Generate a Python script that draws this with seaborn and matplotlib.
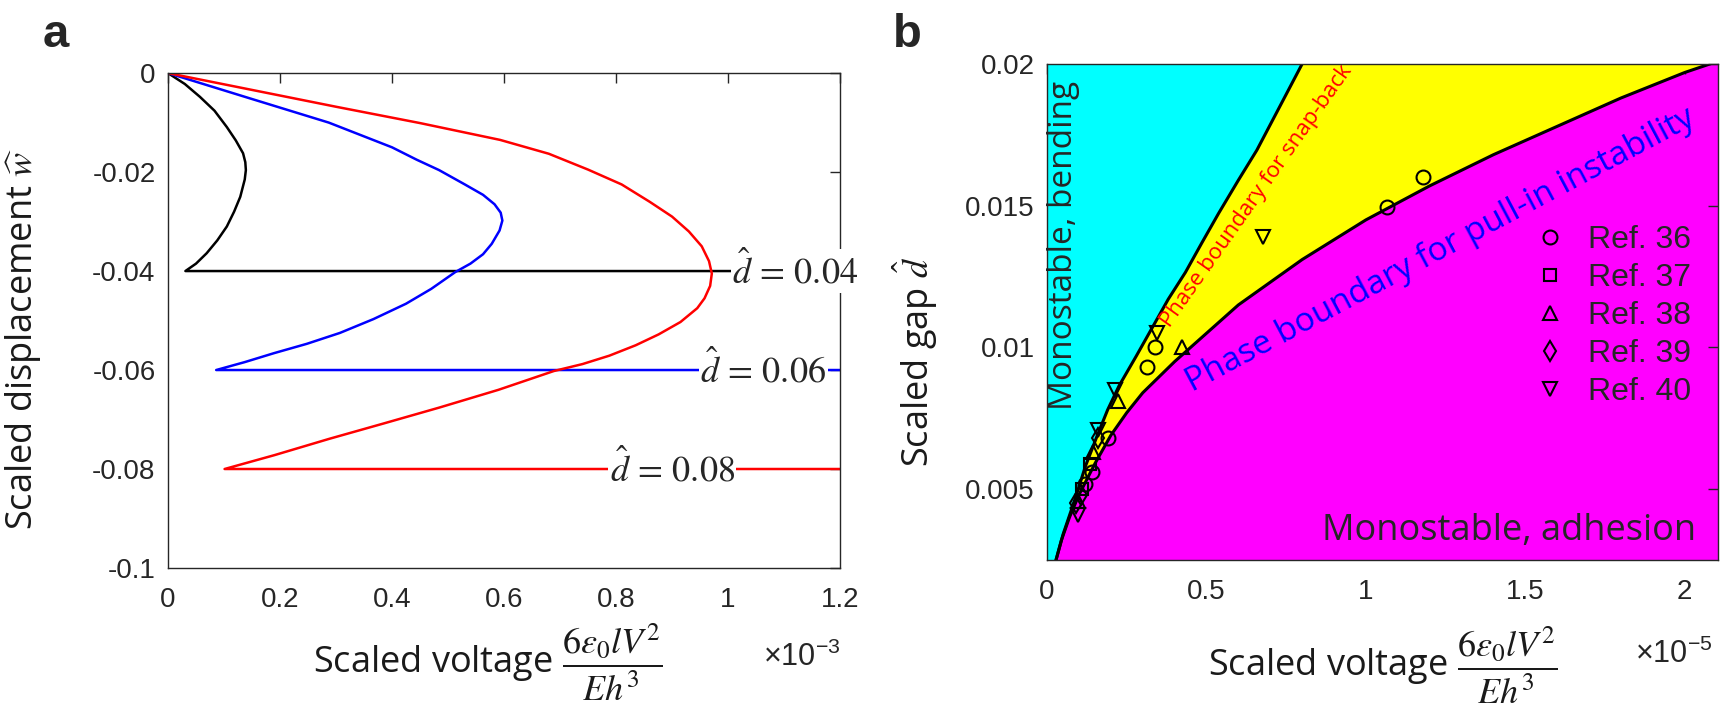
import numpy as np
import matplotlib
matplotlib.use('Agg')
import matplotlib.pyplot as plt
import seaborn as sns

# ---- panel a: scaled voltage (in units of 1e-3) vs scaled displacement ----
v_d004 = [0.0, 0.03, 0.057, 0.083, 0.105, 0.121, 0.134, 0.138, 0.139, 0.137, 0.129,
          0.118, 0.105, 0.088, 0.069, 0.05, 0.031, 1.2]
w_d004 = [0.0, -0.0022, -0.0048, -0.0076, -0.0109, -0.0136, -0.0162, -0.018, -0.0196,
          -0.0215, -0.025, -0.028, -0.031, -0.0338, -0.0364, -0.0385, -0.040, -0.040]

v_d006 = [0.0, 0.146, 0.287, 0.40, 0.444, 0.484, 0.53, 0.5625, 0.583, 0.594, 0.597,
          0.592, 0.578, 0.5625, 0.54, 0.513, 0.47, 0.425, 0.367, 0.307, 0.248, 0.189,
          0.137, 0.086, 1.2]
w_d006 = [0.0, -0.0051, -0.0100, -0.0150, -0.0175, -0.0196, -0.0225, -0.0246, -0.0265,
          -0.0282, -0.0298, -0.0318, -0.0345, -0.0366, -0.0385, -0.0402, -0.0436, -0.0466,
          -0.0497, -0.0525, -0.0547, -0.0566, -0.0584, -0.060, -0.060]

v_d008 = [0.0, 0.15, 0.30, 0.45, 0.593, 0.68, 0.75, 0.81, 0.86, 0.90, 0.93, 0.953, 0.966,
          0.971, 0.968, 0.958, 0.945, 0.915, 0.876, 0.835, 0.788, 0.74, 0.689, 0.59, 0.484,
          0.385, 0.288, 0.19, 0.101, 1.2]
w_d008 = [0.0, -0.0034, -0.0068, -0.0101, -0.0135, -0.0163, -0.0195, -0.0225, -0.026,
          -0.029, -0.032, -0.035, -0.038, -0.0405, -0.043, -0.0455, -0.0475, -0.0503,
          -0.0528, -0.055, -0.0571, -0.0588, -0.0602, -0.064, -0.0676, -0.0708, -0.0739,
          -0.0772, -0.080, -0.080]

gap_labels = ['0.04', '0.06', '0.08']
gap_label_v = [1.12, 1.063, 0.90]
gap_label_w = [-0.04, -0.06, -0.08]

# ---- panel b: phase boundaries, scaled voltage (1e-5) vs scaled gap ----
snap_v = [0.028, 0.05, 0.088, 0.12, 0.157, 0.19, 0.226, 0.28, 0.33, 0.38, 0.434, 0.486,
          0.538, 0.60, 0.658, 0.73, 0.80]
snap_d = [0.0025, 0.0034, 0.00466, 0.0058, 0.00688, 0.0078, 0.00865, 0.0097, 0.0107,
          0.0117, 0.01265, 0.0137, 0.01473, 0.0159, 0.01696, 0.0185, 0.020]

pull_v = [0.028, 0.045, 0.07, 0.1, 0.15, 0.2, 0.25, 0.3, 0.4, 0.5, 0.6, 0.7, 0.8, 0.9,
          1.0, 1.2, 1.4, 1.6, 1.8, 2.0, 2.105]
pull_d = [0.0025, 0.0032, 0.0040, 0.0048, 0.0059, 0.0069, 0.0077, 0.0084, 0.0095, 0.0105,
          0.0115, 0.0123, 0.0131, 0.0138, 0.0145, 0.0157, 0.0168, 0.0178, 0.0188, 0.0197,
          0.0201]

ref36_v = [1.178, 1.066, 0.339, 0.312, 0.192, 0.141, 0.12]
ref36_d = [0.0160, 0.01495, 0.0100, 0.0093, 0.0068, 0.0056, 0.0052]
ref37_v = [0.135, 0.11]
ref37_d = [0.0059, 0.0050]
ref38_v = [0.422, 0.222, 0.145, 0.098]
ref38_d = [0.0100, 0.0081, 0.0063, 0.0046]
ref39_v = [0.16, 0.105, 0.09]
ref39_d = [0.0068, 0.0048, 0.0045]
ref40_v = [0.676, 0.344, 0.212, 0.161, 0.097]
ref40_d = [0.0139, 0.0105, 0.0085, 0.0071, 0.0041]

sns.set_style('white')
plt.rcParams['font.family'] = ['Liberation Sans', 'DejaVu Sans']
plt.rcParams['mathtext.fontset'] = 'stix'

fig = plt.figure(figsize=(17.25, 7.09), dpi=100)
ax1 = fig.add_axes([0.0974, 0.1989, 0.3896, 0.698])
ax2 = fig.add_axes([0.607, 0.2101, 0.389, 0.6996])

lab_font = 'Open Sans'

# panel a curves
for v, w, c in [(v_d004, w_d004, 'black'), (v_d006, w_d006, 'blue'), (v_d008, w_d008, 'red')]:
    sns.lineplot(x=v, y=w, sort=False, estimator=None, color=c, lw=1.8, ax=ax1)

for lab, x, y in zip(gap_labels, gap_label_v, gap_label_w):
    ax1.text(x, y, r'$\hat{d}\,=\,$' + lab, fontsize=26, family='STIXGeneral',
             ha='center', va='center', zorder=5, clip_on=False,
             bbox=dict(facecolor='white', edgecolor='none', pad=1))

ax1.set_xlim(0, 1.2)
ax1.set_ylim(-0.1, 0)
ax1.set_xticks([0, 0.2, 0.4, 0.6, 0.8, 1.0, 1.2])
ax1.set_xticklabels(['0', '0.2', '0.4', '0.6', '0.8', '1', '1.2'])
ax1.set_yticks([0, -0.02, -0.04, -0.06, -0.08, -0.1])
ax1.set_yticklabels(['0', '-0.02', '-0.04', '-0.06', '-0.08', '-0.1'])

# panel b regions
ax2.set_facecolor('#FF00FF')
ax2.fill_betweenx(snap_d, 0, snap_v, color='#00FFFF', lw=0, zorder=1)
ax2.fill(np.r_[snap_v, pull_v[::-1]], np.r_[snap_d, pull_d[::-1]], color='#FFFF00',
         lw=0, zorder=1)
sns.lineplot(x=snap_v, y=snap_d, sort=False, estimator=None, color='black', lw=2.2, ax=ax2, zorder=2)
sns.lineplot(x=pull_v, y=pull_d, sort=False, estimator=None, color='black', lw=2.2, ax=ax2, zorder=2)

mk = dict(ls='none', mfc='none', mec='black', mew=1.5, zorder=3)
ax2.plot(ref36_v, ref36_d, marker='o', ms=10, label='Ref. 36', **mk)
ax2.plot(ref37_v, ref37_d, marker='s', ms=8, label='Ref. 37', **mk)
ax2.plot(ref38_v, ref38_d, marker='^', ms=10, label='Ref. 38', **mk)
ax2.plot(ref39_v, ref39_d, marker='d', ms=10, label='Ref. 39', **mk)
ax2.plot(ref40_v, ref40_d, marker='v', ms=10, label='Ref. 40', **mk)
ax2.legend(loc='upper right', bbox_to_anchor=(0.96, 0.675), frameon=False, fontsize=23,
           handlelength=1.0, handletextpad=0.7, labelspacing=0.25, borderpad=0,
           borderaxespad=0)

ax2.text(0.025, 0.634, 'Monostable, bending', rotation=90, fontsize=24, family=lab_font,
         ha='center', va='center', transform=ax2.transAxes, zorder=4)
ax2.text(0.313, 0.733, 'Phase boundary for snap-back', rotation=54.7, fontsize=16,
         family=lab_font, color='red', ha='center', va='center',
         transform=ax2.transAxes, rotation_mode='anchor', zorder=4)
ax2.text(0.587, 0.625, 'Phase boundary for pull-in instability', rotation=28, fontsize=24,
         family=lab_font, color='blue', ha='center', va='center',
         transform=ax2.transAxes, rotation_mode='anchor', zorder=4)
ax2.text(0.689, 0.0586, 'Monostable, adhesion', fontsize=26, family=lab_font,
         ha='center', va='center', transform=ax2.transAxes, zorder=4)

ax2.set_xlim(0, 2.105)
ax2.set_ylim(0.0025, 0.02)
ax2.set_xticks([0, 0.5, 1.0, 1.5, 2.0])
ax2.set_xticklabels(['0', '0.5', '1', '1.5', '2'])
ax2.set_yticks([0.005, 0.01, 0.015, 0.02])
ax2.set_yticklabels(['0.005', '0.01', '0.015', '0.02'])

frac = r'$\dfrac{6\epsilon_0 l V^2}{E h^3}$'
for ax, yl, ylx, yly, xlx, xly, expo, ex, ey in [
        (ax1, r'Scaled displacement $\widehat{w}$', -0.216, 0.463, 0.476, -0.19, '-3', 1.0, -0.18),
        (ax2, r'Scaled gap $\hat{d}$', -0.197, 0.40, 0.5, -0.212, '-5', 0.991, -0.19)]:
    ax.tick_params(direction='in', length=7, width=1, labelsize=20, top=True, right=True,
                   colors='#262626', labelcolor='#262626')
    ax.tick_params(axis='x', pad=14)
    ax.tick_params(axis='y', pad=9)
    for s in ax.spines.values():
        s.set_color('#262626')
        s.set_linewidth(1.0)
        s.set_zorder(4)
    ax.set_xlabel('')
    ax.set_ylabel('')
    ax.text(ylx, yly, yl, fontsize=26, family=lab_font, color='#1a1a1a', rotation=90,
            ha='center', va='center', transform=ax.transAxes)
    ax.text(xlx, xly, 'Scaled voltage ' + frac, fontsize=26, family=lab_font,
            color='#1a1a1a', ha='center', va='center', transform=ax.transAxes)
    ax.text(ex, ey, r'$\mathregular{\times10^{' + expo + '}}$', fontsize=22,
            color='#262626', ha='right', va='center', transform=ax.transAxes)

fig.text(43 / 1725, 1 - 47 / 709, 'a', fontsize=34, fontweight='bold', va='baseline')
fig.text(893 / 1725, 1 - 47 / 709, 'b', fontsize=34, fontweight='bold', va='baseline')

fig.savefig('out.png', dpi=100)
